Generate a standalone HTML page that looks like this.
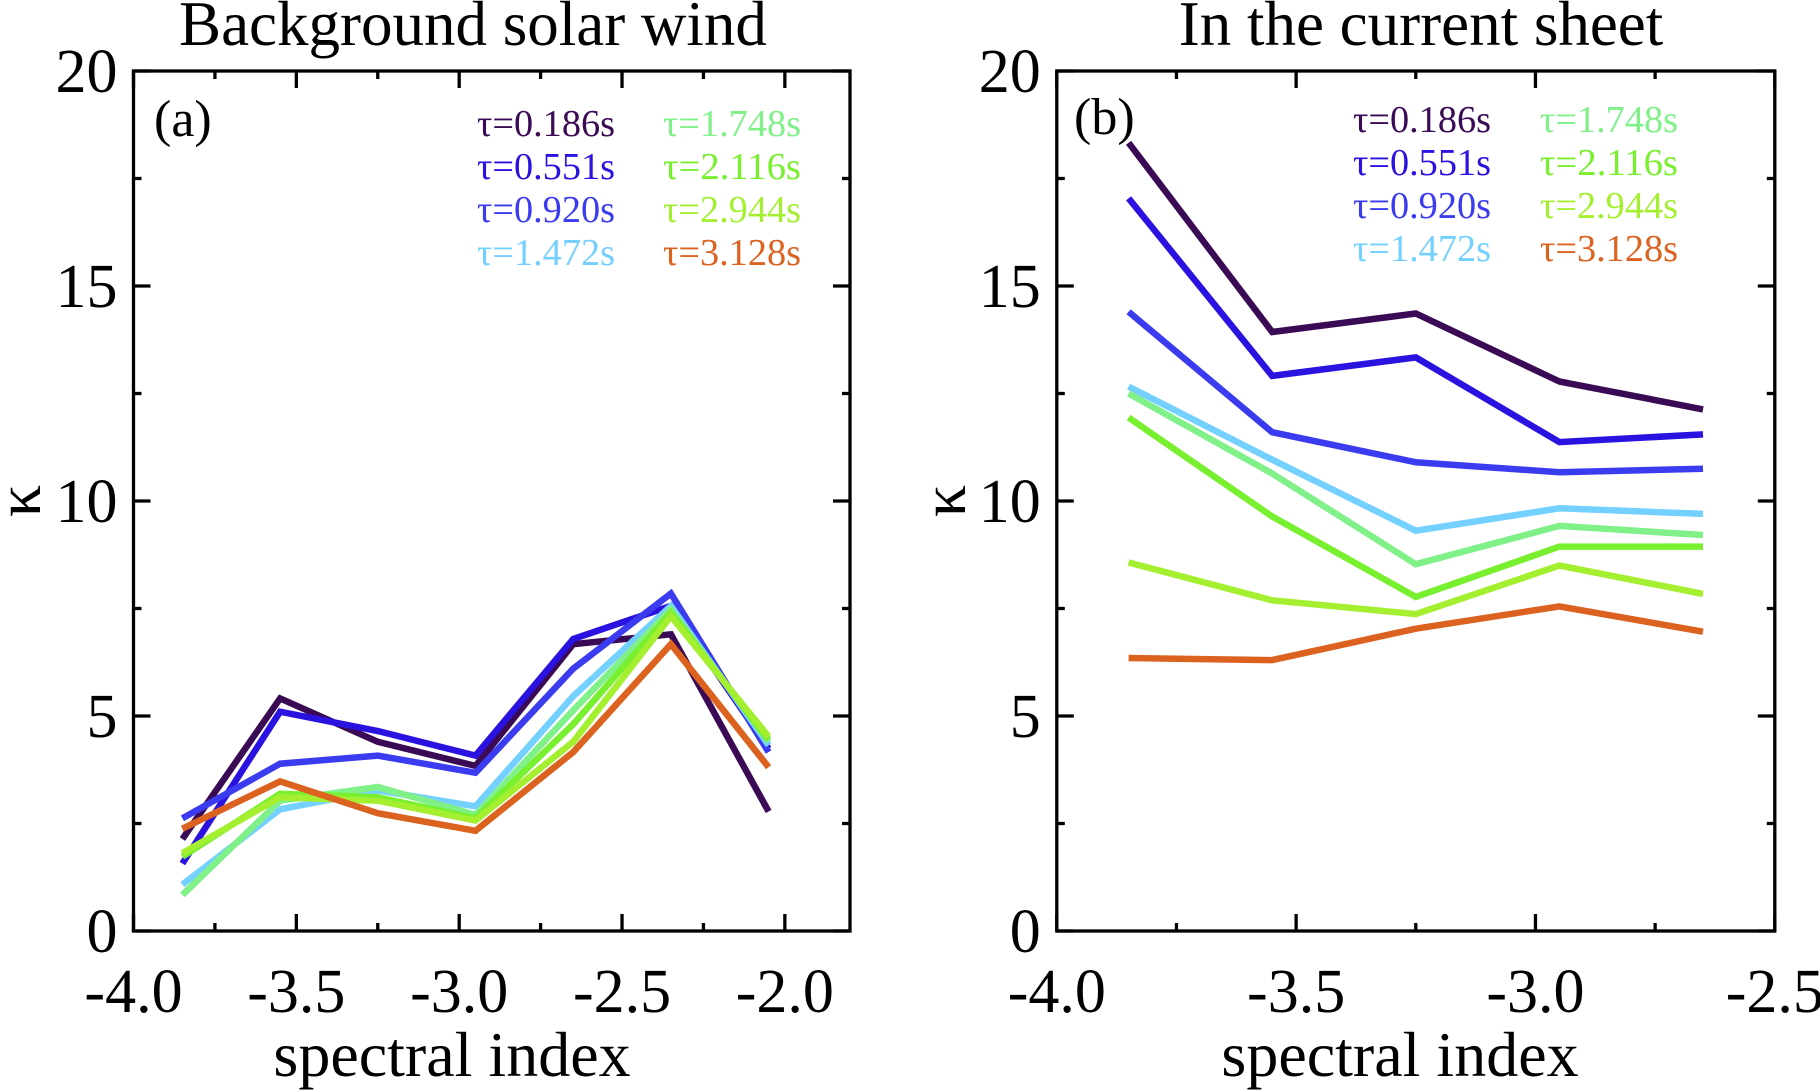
<!DOCTYPE html>
<html><head><meta charset="utf-8"><style>
html,body{margin:0;padding:0;background:#fff;}
svg{display:block;}
text{font-family:"Liberation Serif",serif;}
</style></head><body>
<svg id="s" width="1820" height="1092" viewBox="0 0 1820 1092" xmlns="http://www.w3.org/2000/svg">
<text x="473" y="45" font-size="63" text-anchor="middle">Background solar wind</text>
<text x="1421" y="45" font-size="63" text-anchor="middle">In the current sheet</text>
<text x="452" y="1076" font-size="64" text-anchor="middle">spectral index</text>
<text x="1400" y="1076" font-size="64" text-anchor="middle">spectral index</text>
<text transform="translate(40,501) rotate(-90)" font-size="64" text-anchor="middle">κ</text>
<text transform="translate(965,501) rotate(-90)" font-size="64" text-anchor="middle">κ</text>
<text x="154" y="136" font-size="52">(a)</text>
<text x="1074" y="134" font-size="52">(b)</text>
<g id="g"></g>
</svg>
<script>
var g=document.getElementById('g');var NS='http://www.w3.org/2000/svg';
function el(t,a,txt){var e=document.createElementNS(NS,t);for(var k in a)e.setAttribute(k,a[k]);if(txt!==undefined)e.textContent=txt;g.appendChild(e);return e;}
var cols=['#3a0a55','#2a12e0','#3b3bf0','#74d0ff','#80f088','#78f030','#a4f030','#dc6220'];
var labs=['τ=0.186s','τ=0.551s','τ=0.920s','τ=1.472s','τ=1.748s','τ=2.116s','τ=2.944s','τ=3.128s'];
var T=71,B=931;
function Y(v){return B-v*(B-T)/20;}
function panel(L,R,xmin,xmax,xlabs,xs,data,legX1,legX2,legY){
  var X=function(d){return L+(d-xmin)/(xmax-xmin)*(R-L);};
  data.forEach(function(s,i){
    var p=s.map(function(v,j){return (j?'L':'M')+X(xs[j]).toFixed(1)+' '+Y(v).toFixed(1);}).join(' ');
    el('path',{d:p,fill:'none',stroke:cols[i],'stroke-width':6.5,'stroke-linejoin':'miter'});
  });
  el('rect',{x:L,y:T,width:R-L,height:B-T,fill:'none',stroke:'#000','stroke-width':3.3});
  for(var v=0;v<=20;v+=2.5){var len=(v%5==0)?17:8;var y=Y(v);
    el('line',{x1:L,y1:y,x2:L+len,y2:y,stroke:'#000','stroke-width':3.3});
    el('line',{x1:R,y1:y,x2:R-len,y2:y,stroke:'#000','stroke-width':3.3});
    if(v%5==0)el('text',{x:L-16,y:y+21,'font-size':62,'text-anchor':'end'},String(v));}
  for(var d=xmin;d<=xmax+1e-6;d+=0.25){var maj=Math.abs(d*2-Math.round(d*2))<1e-6;var len=maj?17:8;var x=X(d);
    el('line',{x1:x,y1:B,x2:x,y2:B-len,stroke:'#000','stroke-width':3.3});
    el('line',{x1:x,y1:T,x2:x,y2:T+len,stroke:'#000','stroke-width':3.3});
    if(maj)el('text',{x:x,y:1012,'font-size':62,'text-anchor':'middle'},d.toFixed(1));}
  for(var i=0;i<8;i++){var c=i<4?legX1:legX2;var yy=legY+43*(i%4);
    el('text',{x:c,y:yy,'font-size':38,fill:cols[i],textLength:138,lengthAdjust:'spacingAndGlyphs'},labs[i]);}
}
var xa=[-3.85,-3.55,-3.25,-2.95,-2.65,-2.35,-2.05];
var da=[
[2.14,5.41,4.4,3.84,6.67,6.9,2.78],
[1.57,5.1,4.65,4.08,6.79,7.56,4.24],
[2.62,3.89,4.08,3.68,6.1,7.85,4.16],
[1.08,2.83,3.27,2.9,5.46,7.56,4.32],
[0.84,3.03,3.35,2.7,5.13,7.48,4.4],
[1.73,3.19,3.11,2.62,4.81,7.4,4.45],
[1.81,3.11,3.03,2.57,4.4,7.32,4.52],
[2.38,3.48,2.74,2.33,4.16,6.67,3.81]];
panel(133.5,850,-4,-1.8,null,xa,da,477,663,136);
var xb=[-3.85,-3.55,-3.25,-2.95,-2.65];
var db=[
[18.33,13.93,14.36,12.78,12.13],
[17.04,12.91,13.34,11.37,11.55],
[14.4,11.6,10.9,10.67,10.75],
[12.66,10.96,9.31,9.83,9.7],
[12.5,10.64,8.53,9.42,9.21],
[11.94,9.64,7.77,8.94,8.94],
[8.57,7.69,7.37,8.5,7.84],
[6.35,6.3,7.03,7.55,6.96]];
panel(1056.8,1774.8,-4,-2.5,null,xb,db,1353,1540,132);
</script>
</body></html>
